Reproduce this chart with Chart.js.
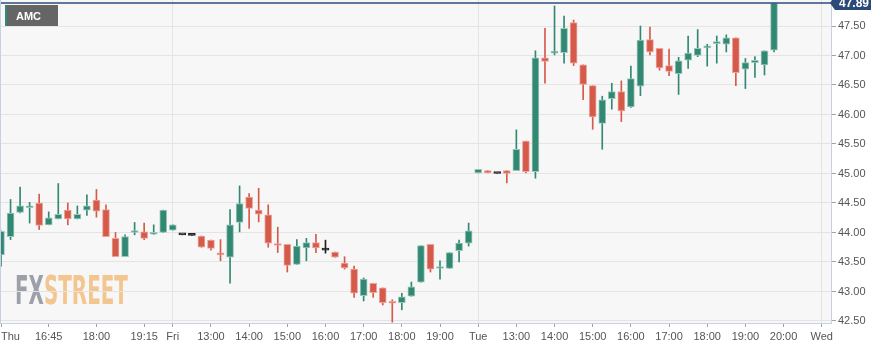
<!DOCTYPE html>
<html>
<head>
<meta charset="utf-8">
<script src="https://cdn.jsdelivr.net/npm/chart.js@4.4.1/dist/chart.umd.min.js"></script>
<style>
  html, body { margin: 0; padding: 0; background: #fff; }
  #wrap { position: relative; width: 895px; height: 349px; }
</style>
</head>
<body>
<div id="wrap"><canvas id="chart"></canvas></div>
<script>
// Velas de 15 minutos, AMC (Thu / Fri / Tue)
const openP = [43.62, 43.93, 44.34, 44.42, 44.50, 44.13, 44.23, 44.38, 44.23, 44.38, 44.55, 44.39, 43.90, 43.59, 44.00, 44.01, 43.97, 44.00,
  44.04, 43.96, 43.95, 43.94, 43.87, 43.64, 43.58, 44.17, 44.60, 44.38, 44.30, 43.80, 43.80, 43.46, 43.74, 43.83, 43.70, 43.67, 43.48, 43.38, 42.93, 43.14, 43.06, 42.82, 42.81, 42.92, 43.16, 43.80, 43.39, 43.39, 43.69, 43.82,
  45.01, 45.05, 45.00, 45.05, 45.05, 45.55, 45.03, 46.96, 47.04, 47.05, 47.56, 46.84, 46.49, 45.85, 46.27, 46.39, 46.13, 46.48, 47.27, 47.12, 46.83, 46.69, 46.92, 47.00, 47.13, 47.20, 47.19, 47.30, 46.77, 46.88, 46.84, 47.09];
const highP = [44.03, 44.56, 44.77, 44.51, 44.65, 44.35, 44.83, 44.50, 44.45, 44.64, 44.73, 44.47, 44.00, 43.96, 44.17, 44.16, 44.13, 44.38,
  44.13, 43.96, 43.95, 43.94, 43.87, 43.88, 44.39, 44.79, 44.66, 44.75, 44.47, 44.09, 43.80, 43.88, 43.90, 43.97, 43.87, 43.67, 43.59, 43.43, 43.23, 43.14, 43.06, 42.86, 42.97, 43.16, 43.78, 43.80, 43.52, 43.66, 43.87, 44.16,
  45.07, 45.05, 45.00, 45.05, 45.74, 45.55, 47.08, 47.46, 47.84, 47.67, 47.60, 46.84, 46.49, 46.31, 46.53, 46.57, 46.82, 47.50, 47.48, 47.12, 47.11, 46.97, 47.33, 47.44, 47.19, 47.33, 47.35, 47.30, 46.95, 46.98, 47.08, 47.89];
const lowP = [43.43, 43.88, 44.33, 44.16, 44.05, 44.13, 44.23, 44.13, 44.23, 44.29, 44.26, 43.93, 43.59, 43.59, 43.96, 43.88, 43.97, 44.00,
  44.04, 43.96, 43.95, 43.75, 43.70, 43.52, 43.14, 44.01, 44.07, 44.18, 43.75, 43.66, 43.33, 43.46, 43.52, 43.66, 43.65, 43.58, 43.38, 42.90, 42.84, 42.90, 42.77, 42.48, 42.69, 42.92, 43.16, 43.33, 43.21, 43.39, 43.50, 43.77,
  45.01, 45.01, 45.00, 44.84, 45.05, 45.01, 44.92, 46.53, 47.01, 46.87, 46.83, 46.25, 45.75, 45.41, 46.09, 45.88, 46.12, 46.32, 47.01, 46.75, 46.66, 46.34, 46.78, 46.98, 46.82, 46.87, 47.06, 46.49, 46.44, 46.63, 46.67, 47.06];
const closeP = [44.02, 44.33, 44.45, 44.43, 44.12, 44.25, 44.31, 44.23, 44.31, 44.45, 44.36, 43.93, 43.59, 43.93, 44.02, 43.90, 44.00, 44.38,
  44.13, 43.96, 43.95, 43.75, 43.73, 43.62, 44.13, 44.49, 44.41, 44.31, 43.82, 43.78, 43.44, 43.77, 43.83, 43.74, 43.70, 43.58, 43.40, 42.97, 43.21, 42.98, 42.81, 42.80, 42.91, 43.08, 43.78, 43.38, 43.40, 43.66, 43.82, 44.03,
  45.07, 45.01, 45.00, 45.00, 45.41, 45.03, 46.96, 46.90, 47.06, 47.46, 46.87, 46.51, 45.96, 46.25, 46.39, 46.06, 46.61, 47.26, 47.06, 46.79, 46.73, 46.91, 47.04, 47.12, 47.15, 47.22, 47.30, 46.71, 46.88, 46.92, 47.08, 47.89];

// Eje X: posiciones (índice de vela) y textos
const tickIdx = [0, 5, 10, 15, 18, 22, 26, 30, 34, 38, 42, 46, 50, 54, 58, 62, 66, 70, 74, 78, 82, 86];
const tickText = ['Thu', '16:45', '18:00', '19:15', 'Fri', '13:00', '14:00', '15:00', '16:00', '17:00', '18:00', '19:00',
  'Tue', '13:00', '14:00', '15:00', '16:00', '17:00', '18:00', '19:00', '20:00', 'Wed'];
const dayIdx = [18, 50, 86];
const yTicks = [42.5, 43, 43.5, 44, 44.5, 45, 45.5, 46, 46.5, 47, 47.5];
const lastPrice = 47.89;

const palette = {
  up: '#338874', upEdge: '#98c8ba',
  down: '#d65a4a', downEdge: '#eca59d',
  flat: '#222222',
  grid: '#e4e4e4', axis: '#c9d0e3', tick: '#9aa3b5', text: '#555'
};

function dir(i) {
  return closeP[i] > openP[i] ? 1 : closeP[i] < openP[i] ? -1 : 0;
}
const mainColor = i => dir(i) > 0 ? palette.up : dir(i) < 0 ? palette.down : palette.flat;
const edgeColor = i => dir(i) > 0 ? palette.upEdge : dir(i) < 0 ? palette.downEdge : palette.flat;

const bodies = openP.map((o, i) => ({ x: i, y: [o, closeP[i]] }));
const wicks = lowP.map((l, i) => ({ x: i, y: [l, highP[i]] }));

const font = { family: '"Liberation Sans", Arial, sans-serif', size: 11 };

const decor = {
  id: 'decor',
  beforeDraw(chart) {
    const { ctx, chartArea: a, width, height } = chart;
    ctx.save();
    ctx.fillStyle = '#ffffff';
    ctx.fillRect(0, 0, width, height);
    ctx.fillStyle = '#f7f7f7';
    ctx.fillRect(a.left, a.top, a.right - a.left, a.bottom - a.top);
    // marca de agua
    ctx.translate(a.left + 15, a.bottom - 19.4);
    ctx.scale(0.51, 1);
    ctx.font = 'bold 39px "DejaVu Sans"';
    ctx.fillStyle = '#9da0a8';
    ctx.fillText('FX', 0, 0);
    const w = ctx.measureText('FX').width;
    ctx.fillStyle = '#f3c58f';
    ctx.fillText('STREET', w, 0);
    ctx.restore();
  },
  afterDatasetsDraw(chart) {
    const { ctx, chartArea: a } = chart;
    const y = chart.scales.y.getPixelForValue(lastPrice);
    ctx.save();
    ctx.strokeStyle = '#2b4d7e';
    ctx.lineWidth = 1.5;
    ctx.beginPath();
    ctx.moveTo(a.left, y);
    ctx.lineTo(a.right, y);
    ctx.stroke();
    ctx.strokeStyle = palette.axis;
    ctx.lineWidth = 1;
    ctx.beginPath();
    ctx.moveTo(a.left + 0.5, a.top);
    ctx.lineTo(a.left + 0.5, a.bottom);
    ctx.stroke();
    ctx.restore();
  },
  afterDraw(chart) {
    const { ctx, chartArea: a } = chart;
    ctx.save();
    // etiqueta del símbolo
    ctx.fillStyle = '#656565';
    ctx.fillRect(5, 5, 53, 21);
    ctx.fillStyle = '#2e8b72';
    ctx.fillRect(5, 5, 2, 21);
    ctx.fillStyle = '#ffffff';
    ctx.font = 'bold 11px "Liberation Sans", Arial, sans-serif';
    ctx.textBaseline = 'alphabetic';
    ctx.fillText('AMC', 16, 19.5);
    // etiqueta del último precio
    const y = chart.scales.y.getPixelForValue(lastPrice);
    const x0 = a.right + 2;
    ctx.fillStyle = '#2b4a78';
    ctx.beginPath();
    ctx.moveTo(x0 - 3, y);
    ctx.lineTo(x0 + 2, y - 7);
    ctx.lineTo(x0 + 38, y - 7);
    ctx.lineTo(x0 + 38, y + 7);
    ctx.lineTo(x0 + 2, y + 7);
    ctx.closePath();
    ctx.fill();
    ctx.fillStyle = '#ffffff';
    ctx.font = 'bold 12px "Liberation Sans", Arial, sans-serif';
    ctx.fillText(lastPrice.toFixed(2), x0 + 6, y + 4.5);
    ctx.restore();
  }
};

new Chart(document.getElementById('chart'), {
  type: 'bar',
  data: {
    datasets: [
      { data: bodies, grouped: false, barThickness: 7, minBarLength: 2, borderWidth: 1, borderSkipped: false,
        backgroundColor: c => mainColor(c.dataIndex), borderColor: c => edgeColor(c.dataIndex) },
      { data: wicks, grouped: false, barThickness: 1, borderWidth: 0,
        backgroundColor: c => mainColor(c.dataIndex) }
    ]
  },
  options: {
    responsive: true, maintainAspectRatio: false, animation: false,
    layout: { padding: 0 },
    plugins: { legend: { display: false }, tooltip: { enabled: false } },
    scales: {
      x: {
        type: 'linear', min: -0.105, max: 86.97, offset: false,
        afterBuildTicks: s => { s.ticks = tickIdx.map(v => ({ value: v })).concat([{ value: s.max }]); },
        afterFit: s => { s.height = 26; s.paddingLeft = 0; s.paddingRight = 0; },
        grid: {
          offset: false,
          color: c => (c.tick && dayIdx.includes(c.tick.value)) ? palette.grid : 'rgba(0,0,0,0)',
          tickColor: c => (c.tick && c.tick.value > 86.5) ? 'rgba(0,0,0,0)' : palette.tick,
          tickLength: 4
        },
        border: { color: palette.axis },
        ticks: {
          autoSkip: false, maxRotation: 0, align: 'inner', padding: 3, color: palette.text, font,
          callback: v => { const k = tickIdx.indexOf(v); return k < 0 ? '' : tickText[k]; }
        }
      },
      y: {
        position: 'right', min: 42.466, max: 47.9407,
        afterBuildTicks: s => { s.ticks = yTicks.map(v => ({ value: v })); },
        afterFit: s => { s.width = 64; s.paddingTop = 0; s.paddingBottom = 0; },
        grid: { color: palette.grid, tickColor: palette.tick, tickLength: 5 },
        border: { color: palette.axis },
        ticks: { padding: 2, color: palette.text, font, callback: v => v.toFixed(2) }
      }
    }
  },
  plugins: [decor]
});
</script>
</body>
</html>
